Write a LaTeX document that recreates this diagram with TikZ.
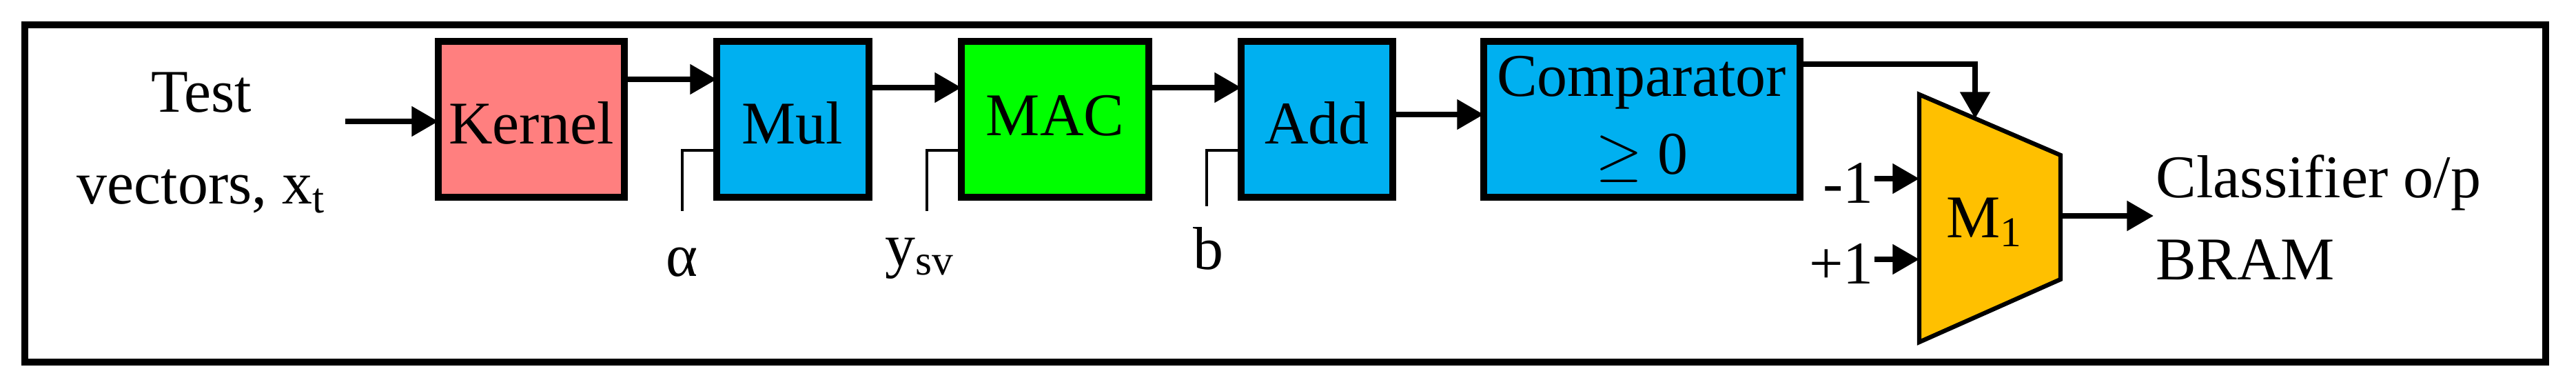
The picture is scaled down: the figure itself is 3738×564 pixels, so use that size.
\documentclass[tikz,border=0pt]{standalone}
\usepackage{fontspec}
\setmainfont{Liberation Serif}
\usetikzlibrary{arrows.meta}
\begin{document}
\begin{tikzpicture}[x=0.01cm,y=-0.01cm,
  blk/.style={draw,line width=2.6pt},
  arr/.style={line width=2.2pt,-{Triangle[length=11pt,width=12pt]}},
  side/.style={line width=1.2pt},
  lbl/.style={font=\fontsize{25}{28}\selectfont,inner sep=0pt}]
\useasboundingbox (0,0) rectangle (3738,564);
\draw[line width=2.6pt] (36,36) rectangle (3694,525);
\definecolor{kpink}{RGB}{255,127,127}
\definecolor{cblue}{RGB}{0,176,240}
\definecolor{cgreen}{RGB}{0,255,0}
\definecolor{cyel}{RGB}{255,192,0}
\draw[blk,fill=kpink] (636,60) rectangle (906,286);
\node[lbl] (kernel) at (771,178) {Kernel};
\draw[blk,fill=cblue] (1040,60) rectangle (1261,286);
\node[lbl] (mul) at (1150,178) {Mul};
\draw[blk,fill=cgreen] (1395,60) rectangle (1667,286);
\node[lbl] (mac) at (1531,168) {MAC};
\draw[blk,fill=cblue] (1801,60) rectangle (2021,286);
\node[lbl] (add) at (1911,178) {Add};
\draw[blk,fill=cblue] (2153,60) rectangle (2612,286);
\node[lbl,align=center] (cmp) at (2382,173) {Comparator\\[4pt]$\geq$ 0};
\draw[line width=1.8pt,fill=cyel] (2785,137) -- (2990,225) -- (2990,405) -- (2785,496) -- cycle;
\node[lbl] (mux) at (2880,322) {M\textsubscript{1}};
\node[lbl,align=center] (test) at (292,207) {Test\\[10pt]vectors, x\textsubscript{t}};
\coordinate (in0) at (501,176);
\draw[arr] (in0) -- (636,176);
\draw[arr] (906,115) -- (1040,115);
\draw[arr] (1261,127) -- (1395,127);
\draw[arr] (1667,127) -- (1801,127);
\draw[arr] (2021,166) -- (2153,166);
\draw[arr] (2612,93) -- (2866,93) -- (2866,172);
\draw[arr] (2720,259) -- (2785,259);
\draw[arr] (2720,376) -- (2785,376);
\draw[arr] (2990,313) -- (3125,313);
\draw[side] (990,306) -- (990,218) -- (1040,218);
\draw[side] (1345,306) -- (1345,218) -- (1395,218);
\draw[side] (1751,299) -- (1751,218) -- (1801,218);
\node[lbl] (alpha) at (990,380) {α};
\node[lbl] (ysv) at (1335,375) {y\textsubscript{sv}};
\node[lbl] (bb) at (1753,360) {b};
\node[lbl] (m1) at (2682,265) {-1};
\node[lbl] (p1) at (2672,382) {+1};
\node[lbl,anchor=west,align=left] (out) at (3128,315) {Classifier o/p\\[6pt]BRAM};
\end{tikzpicture}
\end{document}
